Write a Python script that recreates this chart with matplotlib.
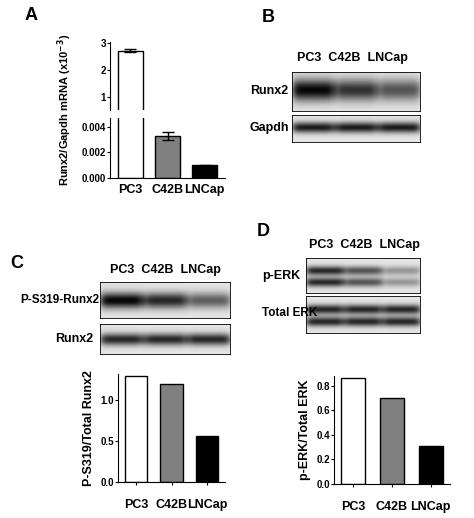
import numpy as np
import matplotlib
matplotlib.use("Agg")
import matplotlib.pyplot as plt

plt.rcParams.update({"font.family": "Liberation Sans", "font.weight": "bold",
                     "axes.labelweight": "bold", "font.size": 8})

CELLS = ["PC3", "C42B", "LNCap"]
COLORS = ["white", "#808080", "black"]
MRNA = [2.72, 0.0033, 0.00098]
MRNA_ERR = [0.05, 0.0003, 0.00003]
PS319_RATIO = [1.29, 1.20, 0.56]
PERK_RATIO = [0.86, 0.70, 0.31]

# band strengths per lane for the blot cartoons
RUNX2_B = [1.0, 0.8, 0.65]
GAPDH_B = [0.9, 0.9, 0.9]
PS319 = [1.0, 0.85, 0.6]
RUNX2_C = [0.85, 0.85, 0.85]
PERK = [0.85, 0.65, 0.35]
TERK = [0.85, 0.85, 0.85]

W, H = 474, 518
fig = plt.figure(figsize=(W / 100, H / 100), dpi=100)


def px_axes(x0, y0, x1, y1):
    return fig.add_axes([x0 / W, 1 - y1 / H, (x1 - x0) / W, (y1 - y0) / H])


def blot(x0, y0, x1, y1, lanes, rows=(0.5,), width=0.2):
    ax = px_axes(x0, y0, x1, y1)
    h, w = 40, 150
    yy, xx = np.mgrid[0:h, 0:w]
    img = np.full((h, w), 0.9)
    for r in rows:
        for i, s in enumerate(lanes):
            cx = (i + 0.5) / 3 * w
            band = np.exp(-((yy - r * h) / (width * h)) ** 2) * np.exp(-((xx - cx) / (0.17 * w)) ** 8)
            img -= 0.88 * s * band
    ax.imshow(np.clip(img, 0, 1), cmap="gray", vmin=0, vmax=1, aspect="auto")
    ax.set_xticks([])
    ax.set_yticks([])
    for s in ax.spines.values():
        s.set_linewidth(0.6)
    return ax


def bar_axes(ax, vals, ylim, ticks, ticklabels):
    ax.bar(range(3), vals, width=0.62, color=COLORS, edgecolor="black", linewidth=1.0)
    ax.set_ylim(*ylim)
    ax.set_xlim(-0.5, 2.5)
    ax.set_yticks(ticks)
    ax.set_yticklabels(ticklabels, fontsize=7)
    ax.set_xticks(range(3))
    ax.set_xticklabels(CELLS, fontsize=9)
    ax.tick_params(axis="x", length=2, pad=10)
    ax.tick_params(axis="y", length=2, pad=1)
    for k in ("top", "right"):
        ax.spines[k].set_visible(False)


# Panel A
fig.text(25 / W, 1 - 15 / H, "A", fontsize=13, fontweight="bold", va="center")
axt = px_axes(110, 42, 225, 110)
axb = px_axes(110, 118, 225, 178)
for ax in (axt, axb):
    ax.bar(range(3), MRNA, yerr=MRNA_ERR, width=0.68, color=COLORS, edgecolor="black",
           linewidth=1.0, capsize=4, error_kw={"elinewidth": 1, "capthick": 1})
    ax.set_xlim(-0.55, 2.55)
    for k in ("top", "right"):
        ax.spines[k].set_visible(False)
    ax.tick_params(axis="y", length=2, pad=1, labelsize=7)
axt.set_ylim(0.5, 3.05)
axt.set_yticks([1, 2, 3])
axt.set_xticks([])
axt.spines["bottom"].set_visible(False)
axb.set_ylim(0, 0.0047)
axb.set_yticks([0, 0.002, 0.004])
axb.set_yticklabels(["0.000", "0.002", "0.004"])
axb.spines["top"].set_visible(False)
axb.set_xticks(range(3))
axb.set_xticklabels(CELLS, fontsize=9)
axb.tick_params(axis="x", length=0, pad=4)
fig.text(65 / W, 1 - 110 / H, "Runx2/Gapdh mRNA (x10$^{-3}$)", rotation=90,
         fontsize=8, ha="center", va="center")

# Panel B
fig.text(262 / W, 1 - 18 / H, "B", fontsize=13, fontweight="bold", va="center")
fig.text(352 / W, 1 - 58 / H, "PC3  C42B  LNCap", fontsize=9, ha="center", va="center")
blot(292, 72, 420, 111, RUNX2_B, rows=(0.45,), width=0.28)
blot(292, 115, 420, 142, GAPDH_B, rows=(0.45,), width=0.2)
fig.text(250 / W, 1 - 91 / H, "Runx2", fontsize=9, va="center")
fig.text(250 / W, 1 - 128 / H, "Gapdh", fontsize=9, va="center")

# Panel C
fig.text(10 / W, 1 - 263 / H, "C", fontsize=13, fontweight="bold", va="center")
fig.text(165 / W, 1 - 270 / H, "PC3  C42B  LNCap", fontsize=9, ha="center", va="center")
blot(100, 282, 230, 318, PS319, rows=(0.5,), width=0.22)
blot(100, 324, 230, 354, RUNX2_C, rows=(0.5,), width=0.2)
fig.text(20 / W, 1 - 300 / H, "P-S319-Runx2", fontsize=8.5, va="center")
fig.text(55 / W, 1 - 339 / H, "Runx2", fontsize=9, va="center")
axc = px_axes(118, 374, 225, 482)
bar_axes(axc, PS319_RATIO, (0, 1.32), [0, 0.5, 1.0], ["0.0", "0.5", "1.0"])
axc.set_ylabel("P-S319/Total Runx2", fontsize=9, labelpad=4)

# Panel D
fig.text(257 / W, 1 - 232 / H, "D", fontsize=13, fontweight="bold", va="center")
fig.text(364 / W, 1 - 245 / H, "PC3  C42B  LNCap", fontsize=9, ha="center", va="center")
blot(306, 258, 420, 293, PERK, rows=(0.35, 0.68), width=0.13)
blot(306, 296, 420, 333, TERK, rows=(0.35, 0.68), width=0.13)
fig.text(262 / W, 1 - 276 / H, "p-ERK", fontsize=9, va="center")
fig.text(262 / W, 1 - 313 / H, "Total ERK", fontsize=8.5, va="center")
axd = px_axes(334, 376, 450, 484)
bar_axes(axd, PERK_RATIO, (0, 0.88), [0, 0.2, 0.4, 0.6, 0.8], ["0.0", "0.2", "0.4", "0.6", "0.8"])
axd.set_ylabel("p-ERK/Total ERK", fontsize=9, labelpad=4)

fig.savefig("out.png", dpi=100)
